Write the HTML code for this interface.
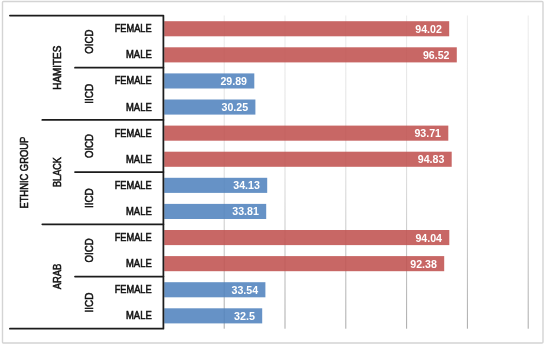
<!DOCTYPE html>
<html><head><meta charset="utf-8"><title>Chart</title>
<style>html,body{margin:0;padding:0;background:#fff}body{width:546px;height:345px;overflow:hidden}</style></head>
<body>
<svg width="546" height="345" viewBox="0 0 546 345" style="display:block;font-family:'Liberation Sans',sans-serif">
<rect x="0" y="0" width="546" height="345" fill="#fff"/>
<rect x="2.5" y="1.5" width="540.5" height="341.5" rx="1" ry="1" fill="#fff" stroke="#d4d4d4" stroke-width="1.4"/>
<defs><linearGradient id="gg" x1="0" y1="0" x2="0" y2="1"><stop offset="0" stop-color="#ececec"/><stop offset="0.5" stop-color="#dcdcdc"/><stop offset="1" stop-color="#a8a8a8"/></linearGradient></defs>
<rect x="223.7" y="15.5" width="1" height="313.2" fill="url(#gg)"/>
<rect x="284.5" y="15.5" width="1" height="313.2" fill="url(#gg)"/>
<rect x="345.3" y="15.5" width="1" height="313.2" fill="url(#gg)"/>
<rect x="406.1" y="15.5" width="1" height="313.2" fill="url(#gg)"/>
<rect x="466.9" y="15.5" width="1" height="313.2" fill="url(#gg)"/>
<rect x="527.7" y="15.5" width="1" height="313.2" fill="url(#gg)"/>
<rect x="164.2" y="21.2" width="285.0" height="15.1" fill="#C0504D" fill-opacity="0.865"/>
<text x="441.9" y="32.6" text-anchor="end" font-size="10.3" font-weight="bold" fill="#fff" textLength="26.6" lengthAdjust="spacingAndGlyphs">94.02</text>
<rect x="164.2" y="47.3" width="292.6" height="15.1" fill="#C0504D" fill-opacity="0.865"/>
<text x="449.5" y="58.8" text-anchor="end" font-size="10.3" font-weight="bold" fill="#fff" textLength="26.6" lengthAdjust="spacingAndGlyphs">96.52</text>
<rect x="164.2" y="73.4" width="90.1" height="15.1" fill="#4F81BD" fill-opacity="0.865"/>
<text x="247.0" y="84.8" text-anchor="end" font-size="10.3" font-weight="bold" fill="#fff" textLength="26.6" lengthAdjust="spacingAndGlyphs">29.89</text>
<rect x="164.2" y="99.5" width="91.2" height="15.1" fill="#4F81BD" fill-opacity="0.865"/>
<text x="248.1" y="111.0" text-anchor="end" font-size="10.3" font-weight="bold" fill="#fff" textLength="26.6" lengthAdjust="spacingAndGlyphs">30.25</text>
<rect x="164.2" y="125.6" width="284.1" height="15.1" fill="#C0504D" fill-opacity="0.865"/>
<text x="441.0" y="137.1" text-anchor="end" font-size="10.3" font-weight="bold" fill="#fff" textLength="26.6" lengthAdjust="spacingAndGlyphs">93.71</text>
<rect x="164.2" y="151.7" width="287.5" height="15.1" fill="#C0504D" fill-opacity="0.865"/>
<text x="444.4" y="163.2" text-anchor="end" font-size="10.3" font-weight="bold" fill="#fff" textLength="26.6" lengthAdjust="spacingAndGlyphs">94.83</text>
<rect x="164.2" y="177.8" width="103.0" height="15.1" fill="#4F81BD" fill-opacity="0.865"/>
<text x="259.9" y="189.3" text-anchor="end" font-size="10.3" font-weight="bold" fill="#fff" textLength="26.6" lengthAdjust="spacingAndGlyphs">34.13</text>
<rect x="164.2" y="203.9" width="102.0" height="15.1" fill="#4F81BD" fill-opacity="0.865"/>
<text x="258.9" y="215.4" text-anchor="end" font-size="10.3" font-weight="bold" fill="#fff" textLength="26.6" lengthAdjust="spacingAndGlyphs">33.81</text>
<rect x="164.2" y="230.0" width="285.1" height="15.1" fill="#C0504D" fill-opacity="0.865"/>
<text x="442.0" y="241.5" text-anchor="end" font-size="10.3" font-weight="bold" fill="#fff" textLength="26.6" lengthAdjust="spacingAndGlyphs">94.04</text>
<rect x="164.2" y="256.1" width="280.0" height="15.1" fill="#C0504D" fill-opacity="0.865"/>
<text x="436.9" y="267.6" text-anchor="end" font-size="10.3" font-weight="bold" fill="#fff" textLength="26.6" lengthAdjust="spacingAndGlyphs">92.38</text>
<rect x="164.2" y="282.2" width="101.2" height="15.1" fill="#4F81BD" fill-opacity="0.865"/>
<text x="258.1" y="293.7" text-anchor="end" font-size="10.3" font-weight="bold" fill="#fff" textLength="26.6" lengthAdjust="spacingAndGlyphs">33.54</text>
<rect x="164.2" y="308.3" width="98.0" height="15.1" fill="#4F81BD" fill-opacity="0.865"/>
<text x="254.9" y="319.8" text-anchor="end" font-size="10.3" font-weight="bold" fill="#fff" textLength="21" lengthAdjust="spacingAndGlyphs">32.5</text>
<g stroke="#1c1c1c" stroke-width="1.75" stroke-linecap="round" stroke-linejoin="round" fill="none">
<path d="M9.9 15.5 H163.4 V328.7 H9.9"/>
<line x1="42.3" y1="119.9" x2="163.4" y2="119.9"/>
<line x1="42.3" y1="224.3" x2="163.4" y2="224.3"/>
<line x1="75" y1="67.7" x2="163.4" y2="67.7"/>
<line x1="75" y1="172.1" x2="163.4" y2="172.1"/>
<line x1="75" y1="276.5" x2="163.4" y2="276.5"/>
</g>
<text x="151.7" y="32.1" text-anchor="end" font-size="10.6" fill="#111" stroke="#111" stroke-width="0.55" textLength="37" lengthAdjust="spacingAndGlyphs">FEMALE</text>
<text x="151.7" y="58.3" text-anchor="end" font-size="10.6" fill="#111" stroke="#111" stroke-width="0.55" textLength="25.7" lengthAdjust="spacingAndGlyphs">MALE</text>
<text x="151.7" y="84.3" text-anchor="end" font-size="10.6" fill="#111" stroke="#111" stroke-width="0.55" textLength="37" lengthAdjust="spacingAndGlyphs">FEMALE</text>
<text x="151.7" y="110.5" text-anchor="end" font-size="10.6" fill="#111" stroke="#111" stroke-width="0.55" textLength="25.7" lengthAdjust="spacingAndGlyphs">MALE</text>
<text x="151.7" y="136.6" text-anchor="end" font-size="10.6" fill="#111" stroke="#111" stroke-width="0.55" textLength="37" lengthAdjust="spacingAndGlyphs">FEMALE</text>
<text x="151.7" y="162.7" text-anchor="end" font-size="10.6" fill="#111" stroke="#111" stroke-width="0.55" textLength="25.7" lengthAdjust="spacingAndGlyphs">MALE</text>
<text x="151.7" y="188.8" text-anchor="end" font-size="10.6" fill="#111" stroke="#111" stroke-width="0.55" textLength="37" lengthAdjust="spacingAndGlyphs">FEMALE</text>
<text x="151.7" y="214.9" text-anchor="end" font-size="10.6" fill="#111" stroke="#111" stroke-width="0.55" textLength="25.7" lengthAdjust="spacingAndGlyphs">MALE</text>
<text x="151.7" y="241.0" text-anchor="end" font-size="10.6" fill="#111" stroke="#111" stroke-width="0.55" textLength="37" lengthAdjust="spacingAndGlyphs">FEMALE</text>
<text x="151.7" y="267.1" text-anchor="end" font-size="10.6" fill="#111" stroke="#111" stroke-width="0.55" textLength="25.7" lengthAdjust="spacingAndGlyphs">MALE</text>
<text x="151.7" y="293.2" text-anchor="end" font-size="10.6" fill="#111" stroke="#111" stroke-width="0.55" textLength="37" lengthAdjust="spacingAndGlyphs">FEMALE</text>
<text x="151.7" y="319.3" text-anchor="end" font-size="10.6" fill="#111" stroke="#111" stroke-width="0.55" textLength="25.7" lengthAdjust="spacingAndGlyphs">MALE</text>
<text transform="translate(93.4,41.6) rotate(-90)" text-anchor="middle" font-size="10.8" fill="#111" stroke="#111" stroke-width="0.55" textLength="24.2" lengthAdjust="spacingAndGlyphs">OICD</text>
<text transform="translate(93.4,93.8) rotate(-90)" text-anchor="middle" font-size="10.8" fill="#111" stroke="#111" stroke-width="0.55" textLength="19.8" lengthAdjust="spacingAndGlyphs">IICD</text>
<text transform="translate(93.4,146.0) rotate(-90)" text-anchor="middle" font-size="10.8" fill="#111" stroke="#111" stroke-width="0.55" textLength="24.2" lengthAdjust="spacingAndGlyphs">OICD</text>
<text transform="translate(93.4,198.2) rotate(-90)" text-anchor="middle" font-size="10.8" fill="#111" stroke="#111" stroke-width="0.55" textLength="19.8" lengthAdjust="spacingAndGlyphs">IICD</text>
<text transform="translate(93.4,250.4) rotate(-90)" text-anchor="middle" font-size="10.8" fill="#111" stroke="#111" stroke-width="0.55" textLength="24.2" lengthAdjust="spacingAndGlyphs">OICD</text>
<text transform="translate(93.4,302.6) rotate(-90)" text-anchor="middle" font-size="10.8" fill="#111" stroke="#111" stroke-width="0.55" textLength="19.8" lengthAdjust="spacingAndGlyphs">IICD</text>
<text transform="translate(60.5,67.7) rotate(-90)" text-anchor="middle" font-size="10.8" fill="#111" stroke="#111" stroke-width="0.55" textLength="44" lengthAdjust="spacingAndGlyphs">HAMITES</text>
<text transform="translate(60.5,172.1) rotate(-90)" text-anchor="middle" font-size="10.8" fill="#111" stroke="#111" stroke-width="0.55" textLength="29.6" lengthAdjust="spacingAndGlyphs">BLACK</text>
<text transform="translate(60.5,276.5) rotate(-90)" text-anchor="middle" font-size="10.8" fill="#111" stroke="#111" stroke-width="0.55" textLength="25.6" lengthAdjust="spacingAndGlyphs">ARAB</text>
<text transform="translate(28.2,172.7) rotate(-90)" text-anchor="middle" font-size="10.8" fill="#111" stroke="#111" stroke-width="0.55" textLength="71.8" lengthAdjust="spacingAndGlyphs">ETHNIC GROUP</text>
</svg>
</body></html>
